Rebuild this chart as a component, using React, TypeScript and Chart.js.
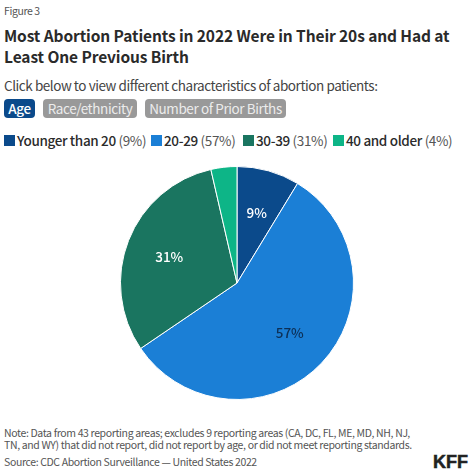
import React, { useEffect, useRef } from "react";
import { Chart, registerables } from "chart.js";

Chart.register(...registerables);

const categories = ["Younger than 20", "20-29", "30-39", "40 and older"];
const values = [8.7, 56.8, 30.9, 3.6];
const percentLabels = ["9%", "57%", "31%", "4%"];
const colors = ["#0B4A8B", "#1B7FD6", "#1A7560", "#0DB587"];
const labelColors = ["#ffffff", "#0d2f55", "#ffffff", ""];
const buttons = ["Age", "Race/ethnicity", "Number of Prior Births"];

const FONT = '"Noto Sans CJK SC", "Noto Sans", sans-serif';

const sliceLabels = {
  id: "sliceLabels",
  afterDatasetsDraw(chart: any) {
    const { ctx } = chart;
    const meta = chart.getDatasetMeta(0);
    ctx.save();
    ctx.font = `500 13.5px ${FONT}`;
    ctx.textAlign = "center";
    ctx.textBaseline = "middle";
    meta.data.forEach((arc: any, i: number) => {
      if (!labelColors[i]) return;
      const mid = (arc.startAngle + arc.endAngle) / 2;
      const r = arc.outerRadius * 0.625;
      ctx.fillStyle = labelColors[i];
      ctx.fillText(percentLabels[i], arc.x + Math.cos(mid) * r, arc.y + Math.sin(mid) * r);
    });
    ctx.restore();
  },
};

const abs = (left: number, top: number, extra: React.CSSProperties = {}): React.CSSProperties => ({
  position: "absolute",
  left,
  top,
  whiteSpace: "nowrap",
  fontFamily: FONT,
  ...extra,
});

export default function App() {
  const ref = useRef<HTMLCanvasElement>(null);
  useEffect(() => {
    document.body.style.margin = "0";
    document.body.style.background = "#fff";
    const chart = new Chart(ref.current!, {
      type: "pie",
      data: {
        labels: categories,
        datasets: [{ data: values, backgroundColor: colors, borderColor: "#ffffff", borderWidth: 1 }],
      },
      options: {
        responsive: false,
        animation: false,
        layout: { padding: 3 },
        plugins: { legend: { display: false }, tooltip: { enabled: false }, title: { display: false } },
      },
      plugins: [sliceLabels],
    });
    return () => chart.destroy();
  }, []);

  const legendX = [4, 151, 243, 333];
  const btnX = [4, 43, 145];
  const btnW = [31, 94, 141];

  return (
    <div style={{ position: "relative", width: 474, height: 473, overflow: "hidden", background: "#fff", color: "#2b2b2b" }}>
      <div style={abs(4, 3, { fontSize: 10.5, letterSpacing: -0.4, lineHeight: "16px", color: "#555" })}>Figure 3</div>
      <div style={abs(4, 25, { fontSize: 15.5, letterSpacing: -0.1, fontWeight: 700, lineHeight: "20.7px", color: "#2a2a2a" })}>
        Most Abortion Patients in 2022 Were in Their 20s and Had at
        <br />
        Least One Previous Birth
      </div>
      <div style={abs(4, 75, { fontSize: 13.5, letterSpacing: -0.44, lineHeight: "20px", color: "#444" })}>
        Click below to view different characteristics of abortion patients:
      </div>
      {buttons.map((b, i) => (
        <div
          key={b}
          style={abs(btnX[i], 99, {
            width: btnW[i],
            height: 19,
            borderRadius: 4,
            background: i === 0 ? "#0B4A8B" : "#999999",
            color: i === 0 ? "#fff" : "#ececec",
            fontSize: 13.5,
            letterSpacing: -0.4,
            lineHeight: "19px",
            textAlign: "center",
            fontWeight: i === 0 ? 500 : 400,
          })}
        >
          {b}
        </div>
      ))}
      {categories.map((c, i) => (
        <React.Fragment key={c}>
          <div style={abs(legendX[i], 135, { width: 11, height: 11, background: colors[i] })} />
          <div style={abs(legendX[i] + 13, 130, { fontSize: 13.5, letterSpacing: -0.35, lineHeight: "20px", fontWeight: 500, color: "#2b2b2b" })}>
            {c} <span style={{ fontWeight: 400, color: "#555" }}>({percentLabels[i]})</span>
          </div>
        </React.Fragment>
      ))}
      <canvas ref={ref} width={240} height={240} style={{ position: "absolute", left: 117, top: 162.5, width: 240, height: 240 }} />
      <div style={abs(4, 427, { fontSize: 10.5, letterSpacing: -0.36, lineHeight: "12.3px", color: "#555" })}>
        Note: Data from 43 reporting areas; excludes 9 reporting areas (CA, DC, FL, ME, MD, NH, NJ,
        <br />
        TN, and WY) that did not report, did not report by age, or did not meet reporting standards.
      </div>
      <div style={abs(4, 455, { fontSize: 10.5, letterSpacing: -0.37, lineHeight: "14px", color: "#555" })}>
        Source: CDC Abortion Surveillance — United States 2022
      </div>
      <div style={abs(433, 450, { fontSize: 18, fontWeight: 700, lineHeight: "24px", color: "#222", fontFamily: '"Liberation Sans", sans-serif', WebkitTextStroke: "0.5px #222" })}>
        KFF
      </div>
    </div>
  );
}
